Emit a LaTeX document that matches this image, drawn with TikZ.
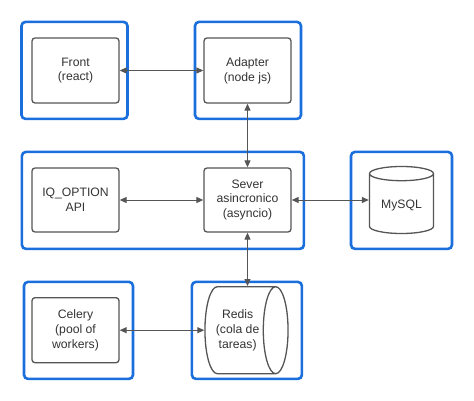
\documentclass[tikz,border=0pt]{standalone}
\usepackage{fontspec}
\setmainfont{Liberation Sans}
\usetikzlibrary{arrows.meta, positioning, shapes.geometric}
\definecolor{boxblue}{HTML}{1A6FDC}
\definecolor{linegray}{HTML}{555555}
\definecolor{txtgray}{HTML}{333333}
\begin{document}
\begin{tikzpicture}[
		x=1pt, y=-1pt,
		outerbox/.style={draw=boxblue, line width=2.6pt, rounded corners=4pt, minimum width=106pt, minimum height=97pt},
		innerbox/.style={draw=linegray, line width=1.3pt, rounded corners=3pt, minimum width=87pt, minimum height=65pt, align=center, font=\fontsize{12.2}{14.8}\selectfont, text=txtgray},
		dbcyl/.style={draw=linegray, line width=1.3pt, cylinder, anchor=shape center, align=center, font=\fontsize{12.2}{14.8}\selectfont, text=txtgray},
		linkarr/.style={{Triangle[length=7pt, width=6pt]}-{Triangle[length=7pt, width=6pt]}, draw=linegray, fill=linegray, line width=1pt},
	]
		\useasboundingbox (0,0) rectangle (474,401);

		% Blue containers
		\node[outerbox] (frontOut) at (74.5,70.4) {};
		\node[outerbox] (adapterOut) at (248,70.4) {};
		\node[outerbox, minimum width=282pt] (midOut) at (162.9,200.4) {};
		\node[outerbox, minimum width=101pt] (mysqlOut) at (401.5,200.4) {};
		\node[outerbox, minimum width=109pt] (celeryOut) at (78.5,330.4) {};
		\node[outerbox, minimum width=110pt] (redisOut) at (246.9,330.4) {};

		% Components
		\node[innerbox] (front) at (75.5,70.5) {Front\\(react)};
		\node[innerbox] (adapter) at (247.5,70.5) {Adapter\\(node js)};
		\node[innerbox, minimum height=64pt] (iqApi) at (75.5,200) {IQ\_OPTION\\API};
		\node[innerbox, minimum height=64pt] (server) at (247.5,200) {Sever\\asincronico\\(asyncio)};
		\node[innerbox] (celery) at (75.5,330.2) {Celery\\(pool of\\workers)};

		% Databases
		\node[dbcyl, shape border rotate=90, aspect=0.3, minimum width=64pt, minimum height=67pt] (mysql) at (401.5,200) {MySQL};
		\node[dbcyl, aspect=0.52, minimum width=87pt, minimum height=65pt] (redis) at (246.5,330.2) {Redis\\(cola de\\tareas)};

		% Links
		\draw[linkarr] (front) -- (adapter);
		\draw[linkarr] (server) -- (adapter);
		\draw[linkarr] (iqApi) -- (server);
		\draw[linkarr] (server) -- (server -| mysql.west);
		\draw[linkarr] (server) -- (server |- redis.north);
		\draw[linkarr] (celery) -- (celery -| redis.west);
	\end{tikzpicture}
\end{document}
